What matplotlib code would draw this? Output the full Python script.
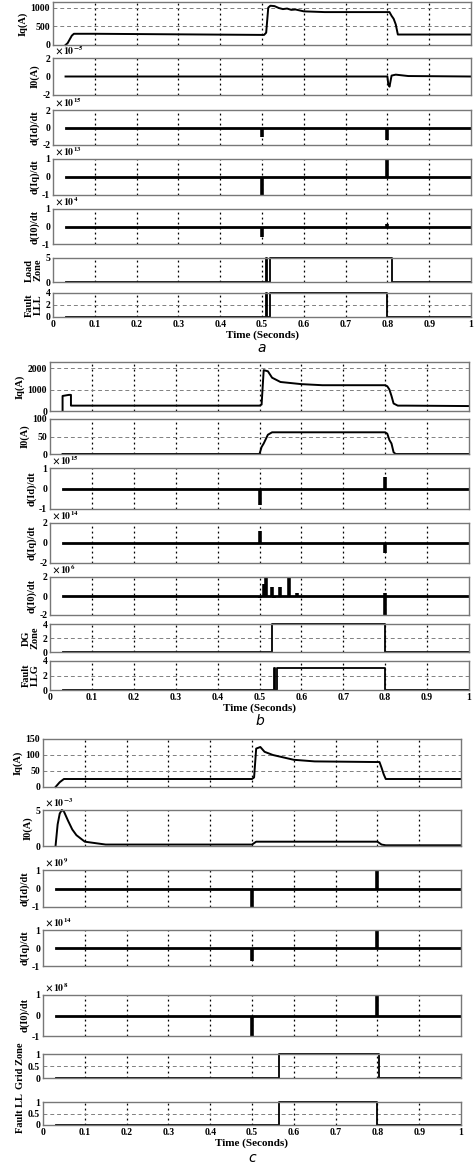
import matplotlib
matplotlib.use("Agg")
import matplotlib.pyplot as plt

plt.rcParams['font.family'] = ['Liberation Serif', 'DejaVu Serif']
plt.rcParams['font.weight'] = 'bold'
plt.rcParams['mathtext.fontset'] = 'stix'

W, H = 474, 1165
xticks = [0, 0.1, 0.2, 0.3, 0.4, 0.5, 0.6, 0.7, 0.8, 0.9, 1]

# ---------------- panel a ----------------
a_iq_t = [0.03, 0.035, 0.045, 0.05, 0.1, 0.5, 0.505, 0.51, 0.515, 0.52, 0.53, 0.54, 0.55, 0.56, 0.57, 0.58, 0.6, 0.65, 0.8, 0.805, 0.81, 0.815, 0.82, 0.825, 1.0]
a_iq_v = [0, 50, 250, 300, 300, 270, 270, 330, 1000, 1050, 1040, 990, 960, 975, 940, 950, 900, 880, 880, 880, 780, 700, 550, 280, 280]
a_i0_t = [0.03, 0.8, 0.802, 0.805, 0.81, 0.82, 0.85, 1.0]
a_i0_v = [0, 0, -0.8, -1.1, 0.1, 0.2, 0.05, 0]
a_did_spk = [(0.5, -1.1), (0.8, -1.4)]
a_diq_spk = [(0.5, -1.0), (0.8, 1.0)]
a_di0_spk = [(0.5, -0.6), (0.8, 0.15)]
a_zone_t = [0.03, 0.51, 0.51, 0.513, 0.513, 0.52, 0.52, 0.81, 0.81, 1.0]
a_zone_v = [0, 0, 5, 5, 0, 0, 5, 5, 0, 0]
a_fault_t = [0.03, 0.51, 0.51, 0.513, 0.513, 0.52, 0.52, 0.8, 0.8, 1.0]
a_fault_v = [0, 0, 4, 4, 0, 0, 4, 4, 0, 0]

# ---------------- panel b ----------------
b_iq_t = [0.03, 0.03, 0.045, 0.045, 0.05, 0.05, 0.1, 0.5, 0.505, 0.51, 0.52, 0.53, 0.55, 0.6, 0.65, 0.8, 0.805, 0.81, 0.815, 0.82, 0.83, 0.85, 1.0]
b_iq_v = [0, 700, 750, 750, 750, 250, 250, 250, 300, 1900, 1850, 1550, 1350, 1250, 1200, 1200, 1150, 1000, 700, 350, 250, 250, 230]
b_i0_t = [0.03, 0.5, 0.505, 0.51, 0.52, 0.53, 0.8, 0.805, 0.81, 0.815, 0.82, 0.825, 1.0]
b_i0_v = [0, 0, 20, 30, 55, 62, 62, 58, 40, 30, 5, 0, 0]
b_did_spk = [(0.5, -0.8), (0.8, 0.55)]
b_diq_spk = [(0.5, 1.2), (0.8, -1.0)]
b_di0_spk = [(0.5, -0.2), (0.51, 1.3), (0.515, 2), (0.53, 1), (0.535, -0.2), (0.55, 1), (0.555, -0.1), (0.57, 2), (0.59, 0.3), (0.8, -2), (0.8, 0.3)]
b_zone_t = [0.03, 0.53, 0.53, 0.8, 0.8, 1.0]
b_zone_v = [0, 0, 4, 4, 0, 0]
b_fault_t = [0.03, 0.535, 0.535, 0.538, 0.538, 0.542, 0.542, 0.8, 0.8, 1.0]
b_fault_v = [0, 0, 3, 3, 0, 0, 3, 3, 0, 0]

# ---------------- panel c ----------------
c_iq_t = [0.03, 0.04, 0.05, 0.1, 0.5, 0.505, 0.51, 0.52, 0.53, 0.55, 0.6, 0.65, 0.8, 0.805, 0.81, 0.815, 0.82, 1.0]
c_iq_v = [0, 15, 25, 25, 25, 30, 120, 125, 110, 100, 85, 80, 78, 78, 60, 40, 25, 25]
c_i0_t = [0.03, 0.035, 0.04, 0.045, 0.05, 0.06, 0.07, 0.08, 0.1, 0.15, 0.5, 0.51, 0.8, 0.81, 0.82, 1.0]
c_i0_v = [0, 3, 4.5, 5, 4.8, 3.5, 2.3, 1.5, 0.6, 0.2, 0.2, 0.6, 0.6, 0.2, 0.1, 0.1]
c_did_spk = [(0.5, -1.0), (0.8, 1.0)]
c_diq_spk = [(0.5, -0.7), (0.8, 1.0)]
c_di0_spk = [(0.5, -1.0), (0.8, 1.0)]
c_zone_t = [0.03, 0.565, 0.565, 0.805, 0.805, 1.0]
c_zone_v = [0, 0, 1, 1, 0, 0]
c_fault_t = [0.03, 0.565, 0.565, 0.8, 0.8, 1.0]
c_fault_v = [0, 0, 1, 1, 0, 0]

fig = plt.figure(figsize=(W / 100, H / 100), dpi=100)


def mkax(x0, x1, top, bot, ylim, yticks, ylabel, hgrid=(), expo=None, last=False):
    ax = fig.add_axes([x0 / W, 1 - bot / H, (x1 - x0) / W, (bot - top) / H])
    ax.set_xlim(0, 1)
    ax.set_ylim(*ylim)
    ax.set_yticks(yticks)
    ax.set_yticklabels([('%g' % v) for v in yticks], fontsize=7, fontweight='bold')
    ax.set_xticks(xticks)
    if last:
        ax.set_xticklabels([('%g' % v) for v in xticks], fontsize=7, fontweight='bold')
    else:
        ax.set_xticklabels([])
    ax.tick_params(length=0, pad=2)
    for t in xticks[1:-1]:
        ax.axvline(t, color='black', ls=(0, (1.5, 2.5)), lw=0.9, zorder=1)
    for h in hgrid:
        ax.axhline(h, color='gray', ls=(0, (4, 3)), lw=0.7, zorder=1)
    for s in ax.spines.values():
        s.set_color('#777777')
        s.set_linewidth(1.0)
    ax.set_ylabel(ylabel, fontsize=7.5, fontweight='bold', labelpad=2, linespacing=0.9)
    if expo is not None:
        ax.text(0.005, 1.02, r'$\times\,\mathbf{10^{%s}}$' % expo, transform=ax.transAxes,
                fontsize=7, va='bottom')
    return ax


def spikes(ax, spk):
    ax.plot([0.03, 1.0], [0, 0], color='black', lw=2)
    for t, v in spk:
        ax.vlines(t, 0, v, color='black', lw=2.6)


def panel(x0, x1, rows, data, labels, lims, ticks, hgrids, expos, xl_y, letter, letter_y):
    for i, (top, bot) in enumerate(rows):
        ax = mkax(x0, x1, top, bot, lims[i], ticks[i], labels[i], hgrids[i], expos[i], last=(i == 6))
        d = data[i]
        if isinstance(d, list):
            spikes(ax, d)
        else:
            t, v = d
            ax.plot(t, v, color='black', lw=1.4 if i < 5 else 1.3, clip_on=False)
    fig.text((x0 + x1) / 2 / W, 1 - xl_y / H, 'Time (Seconds)', ha='center', va='center',
             fontsize=8, fontweight='bold')
    fig.text((x0 + x1) / 2 / W, 1 - letter_y / H, letter, ha='center', va='center',
             fontsize=10, style='italic', fontweight='normal', family='DejaVu Sans')


panel(53, 471,
      [(2, 45), (58, 95), (110, 145), (159, 195), (209, 244), (258, 282), (293, 317)],
      [(a_iq_t, a_iq_v), (a_i0_t, a_i0_v), a_did_spk, a_diq_spk, a_di0_spk,
       (a_zone_t, a_zone_v), (a_fault_t, a_fault_v)],
      ['Iq(A)', 'I0(A)', 'd(Id)/dt', 'd(Iq)/dt', 'd(I0)/dt', 'Load\nZone', 'Fault\nLLL'],
      [(0, 1150), (-2, 2), (-2, 2), (-1, 1), (-1, 1), (0, 5), (0, 4)],
      [[0, 500, 1000], [-2, 0, 2], [-2, 0, 2], [-1, 0, 1], [-1, 0, 1], [0, 5], [0, 2, 4]],
      [[500, 1000], [], [], [], [], [], [2]],
      [None, '-5', '15', '13', '4', None, None], 335, 'a', 348)

panel(50, 469,
      [(362, 411), (419, 454), (468, 509), (523, 563), (577, 615), (624, 652), (661, 690)],
      [(b_iq_t, b_iq_v), (b_i0_t, b_i0_v), b_did_spk, b_diq_spk, b_di0_spk,
       (b_zone_t, b_zone_v), (b_fault_t, b_fault_v)],
      ['Iq(A)', 'I0(A)', 'd(Id)/dt', 'd(Iq)/dt', 'd(I0)/dt', 'DG\nZone', 'Fault\nLLG'],
      [(0, 2280), (0, 100), (-1, 1), (-2, 2), (-2, 2), (0, 4), (0, 4)],
      [[0, 1000, 2000], [0, 50, 100], [-1, 0, 1], [-2, 0, 2], [-2, 0, 2], [0, 2, 4], [0, 2, 4]],
      [[1000, 2000], [50], [], [], [], [2], [2]],
      [None, None, '15', '14', '6', None, None], 708, 'b', 721)

panel(43, 461,
      [(739, 787), (810, 846), (870, 907), (930, 966), (995, 1036), (1054, 1078), (1102, 1125)],
      [(c_iq_t, c_iq_v), (c_i0_t, c_i0_v), c_did_spk, c_diq_spk, c_di0_spk,
       (c_zone_t, c_zone_v), (c_fault_t, c_fault_v)],
      ['Iq(A)', 'I0(A)', 'd(Id)/dt', 'd(Iq)/dt', 'd(I0)/dt', 'Grid Zone', 'Fault LL'],
      [(0, 150), (0, 5), (-1, 1), (-1, 1), (-1, 1), (0, 1), (0, 1)],
      [[0, 50, 100, 150], [0, 5], [-1, 0, 1], [-1, 0, 1], [-1, 0, 1], [0, 0.5, 1], [0, 0.5, 1]],
      [[50, 100], [], [], [], [], [0.5], [0.5]],
      [None, '-3', '9', '14', '8', None, None], 1143, 'c', 1158)

fig.savefig('out.png', dpi=100)
